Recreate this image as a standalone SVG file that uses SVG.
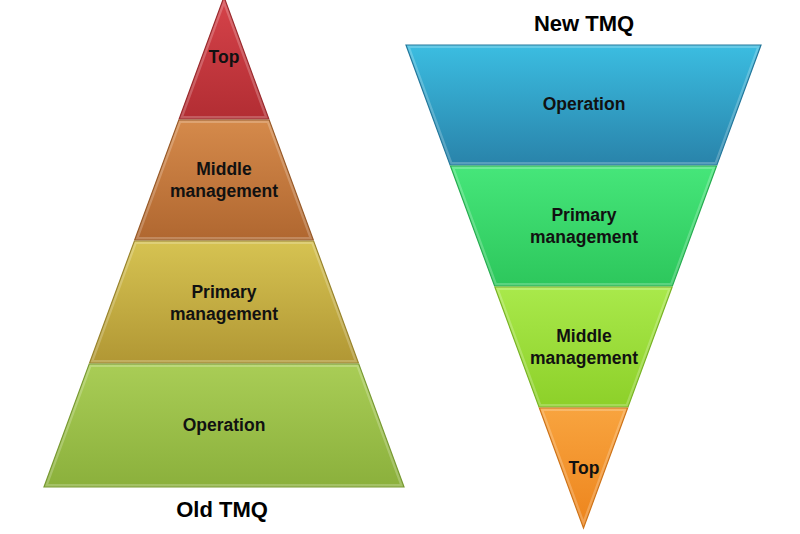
<svg xmlns="http://www.w3.org/2000/svg" xmlns:xlink="http://www.w3.org/1999/xlink" width="800" height="534" viewBox="0 0 800 534">
<style>
.lbl{font-family:"Liberation Sans",Arial,sans-serif;font-weight:bold;font-size:17.5px;fill:#111;text-anchor:middle}
.ttl{font-family:"Liberation Sans",Arial,sans-serif;font-weight:bold;font-size:22px;fill:#000;text-anchor:middle}
.edge{fill:none;stroke-width:1.2}
.bev{fill:none;stroke:#fff;stroke-opacity:0.22;stroke-width:6}
</style>
<defs>
<linearGradient id="gRed" x1="0" y1="0" x2="0" y2="1"><stop offset="0" stop-color="#d6434a"/><stop offset="1" stop-color="#b22d33"/></linearGradient>
<linearGradient id="gBrown" x1="0" y1="0" x2="0" y2="1"><stop offset="0" stop-color="#d58a4b"/><stop offset="1" stop-color="#b06730"/></linearGradient>
<linearGradient id="gOlive" x1="0" y1="0" x2="0" y2="1"><stop offset="0" stop-color="#d6c352"/><stop offset="1" stop-color="#b19734"/></linearGradient>
<linearGradient id="gGreen" x1="0" y1="0" x2="0" y2="1"><stop offset="0" stop-color="#a9cd56"/><stop offset="1" stop-color="#8bb03c"/></linearGradient>
<linearGradient id="gBlue" x1="0" y1="0" x2="0" y2="1"><stop offset="0" stop-color="#3bbde1"/><stop offset="1" stop-color="#2983aa"/></linearGradient>
<linearGradient id="gEmer" x1="0" y1="0" x2="0" y2="1"><stop offset="0" stop-color="#46e67a"/><stop offset="1" stop-color="#2dc75c"/></linearGradient>
<linearGradient id="gLime" x1="0" y1="0" x2="0" y2="1"><stop offset="0" stop-color="#a9e94b"/><stop offset="1" stop-color="#8dd029"/></linearGradient>
<linearGradient id="gOrange" x1="0" y1="0" x2="0" y2="1"><stop offset="0" stop-color="#f8a43f"/><stop offset="1" stop-color="#ed841c"/></linearGradient>
<polygon id="pL1" points="224,-3 268.8,119 179.2,119"/>
<polygon id="pL2" points="178.8,120 269.2,120 313.3,240 134.7,240"/>
<polygon id="pL3" points="134.4,241 313.6,241 358.4,363 89.6,363"/>
<polygon id="pL4" points="89.2,364 358.8,364 404,487 44,487"/>
<polygon id="pR1" points="406,45 761,45 716.9,165 450.1,165"/>
<polygon id="pR2" points="450.5,166 716.5,166 672.4,286 494.6,286"/>
<polygon id="pR3" points="494.9,287 672.1,287 628,407 539,407"/>
<polygon id="pR4" points="539.4,408 627.6,408 583.5,528"/>
<clipPath id="cL1"><use xlink:href="#pL1"/></clipPath>
<clipPath id="cL2"><use xlink:href="#pL2"/></clipPath>
<clipPath id="cL3"><use xlink:href="#pL3"/></clipPath>
<clipPath id="cL4"><use xlink:href="#pL4"/></clipPath>
<clipPath id="cR1"><use xlink:href="#pR1"/></clipPath>
<clipPath id="cR2"><use xlink:href="#pR2"/></clipPath>
<clipPath id="cR3"><use xlink:href="#pR3"/></clipPath>
<clipPath id="cR4"><use xlink:href="#pR4"/></clipPath>
</defs>
<rect width="800" height="534" fill="#fff"/>

<g id="old-top">
<use xlink:href="#pL1" fill="url(#gRed)"/>
<use xlink:href="#pL1" class="bev" clip-path="url(#cL1)"/>
<use xlink:href="#pL1" class="edge" stroke="#9a2a2d"/>
<text class="lbl" x="224" y="63">Top</text>
</g>
<g id="old-middle">
<use xlink:href="#pL2" fill="url(#gBrown)"/>
<use xlink:href="#pL2" class="bev" clip-path="url(#cL2)"/>
<use xlink:href="#pL2" class="edge" stroke="#985a28"/>
<text class="lbl" x="224" y="175">Middle</text>
<text class="lbl" x="224" y="197">management</text>
</g>
<g id="old-primary">
<use xlink:href="#pL3" fill="url(#gOlive)"/>
<use xlink:href="#pL3" class="bev" clip-path="url(#cL3)"/>
<use xlink:href="#pL3" class="edge" stroke="#99842c"/>
<text class="lbl" x="224" y="298">Primary</text>
<text class="lbl" x="224" y="320">management</text>
</g>
<g id="old-operation">
<use xlink:href="#pL4" fill="url(#gGreen)"/>
<use xlink:href="#pL4" class="bev" clip-path="url(#cL4)"/>
<use xlink:href="#pL4" class="edge" stroke="#789a32"/>
<text class="lbl" x="224" y="431">Operation</text>
</g>
<g id="old-title"><text class="ttl" x="222" y="517">Old TMQ</text></g>

<g id="new-operation">
<use xlink:href="#pR1" fill="url(#gBlue)"/>
<use xlink:href="#pR1" class="bev" clip-path="url(#cR1)"/>
<use xlink:href="#pR1" class="edge" stroke="#23789c"/>
<text class="lbl" x="584" y="110">Operation</text>
</g>
<g id="new-primary">
<use xlink:href="#pR2" fill="url(#gEmer)"/>
<use xlink:href="#pR2" class="bev" clip-path="url(#cR2)"/>
<use xlink:href="#pR2" class="edge" stroke="#27ad50"/>
<text class="lbl" x="584" y="221">Primary</text>
<text class="lbl" x="584" y="243">management</text>
</g>
<g id="new-middle">
<use xlink:href="#pR3" fill="url(#gLime)"/>
<use xlink:href="#pR3" class="bev" clip-path="url(#cR3)"/>
<use xlink:href="#pR3" class="edge" stroke="#78b424"/>
<text class="lbl" x="584" y="342">Middle</text>
<text class="lbl" x="584" y="364">management</text>
</g>
<g id="new-top">
<use xlink:href="#pR4" fill="url(#gOrange)"/>
<use xlink:href="#pR4" class="bev" clip-path="url(#cR4)"/>
<use xlink:href="#pR4" class="edge" stroke="#cf7418"/>
<text class="lbl" x="584" y="474">Top</text>
</g>
<g id="new-title"><text class="ttl" x="584" y="31">New TMQ</text></g>
<g id="connectors"></g>
</svg>
